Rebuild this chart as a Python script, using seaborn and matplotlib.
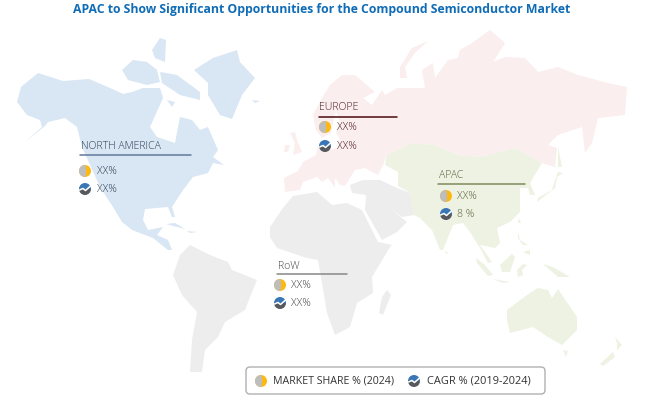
import pandas as pd
import matplotlib.pyplot as plt
import seaborn as sns
from matplotlib.patches import Wedge, Ellipse, FancyBboxPatch

title = "APAC to Show Significant Opportunities for the Compound Semiconductor Market"
legend_share = "MARKET SHARE % (2024)"
legend_cagr = "CAGR % (2019-2024)"

# region names and values as printed on the map
regions = ["NORTH AMERICA", "EUROPE", "APAC", "RoW"]
share_values = ["XX%", "XX%", "XX%", "XX%"]
cagr_values = ["XX%", "XX%", "8 %", "XX%"]

# map outlines in image pixels
north_america = [
    [(17,102),(21,87),(38,73),(63,81),(89,79),(110,88),(123,94),(132,92),(143,88),(160,88),(163,98),(150,127),
     (157,137),(175,143),(180,117),(192,120),(200,130),(208,127),(218,150),(213,157),(224,165),(213,163),(208,173),
     (193,177),(183,190),(172,207),(175,217),(172,217),(168,207),(145,209),(143,220),(148,230),(163,227),(157,235),
     (168,240),(172,250),(168,250),(153,238),(132,230),(122,222),(113,207),(100,187),(82,147),(77,127),(65,118),
     (48,122),(45,126),(25,142),(42,127),(40,120),(27,115)],
    [(122,70),(133,60),(147,62),(157,70),(160,82),(147,85),(128,80)],
    [(152,50),(160,38),(166,40),(165,62),(155,58)],
    [(160,72),(177,75),(200,92),(200,100),(180,95),(162,83)],
    [(167,100),(175,102),(172,107)],
    [(194,70),(213,58),(237,50),(240,62),(255,78),(242,95),(232,119),(220,115),(208,95),(208,83)],
    [(252,100),(260,101),(255,103)],
    [(166,224),(175,223),(185,229),(177,227)],
    [(187,231),(197,232),(190,233)],
]
europe = [
    [(285,192),(284,178),(298,171),(303,162),(316,155),(318,147),(322,150),(330,150),(338,148),(340,140),(336,132),
     (340,122),(336,112),(333,122),(331,133),(322,138),(316,130),(313,115),(322,98),(330,85),(342,75),(355,75),
     (375,92),(363,98),(372,105),(382,90),(385,95),(397,88),(425,88),(422,70),(433,63),(435,78),(448,60),(458,58),
     (460,50),(472,43),(490,30),(505,43),(493,62),(505,57),(525,58),(538,72),(558,67),(578,75),(608,83),(627,87),
     (625,115),(598,118),(592,143),(585,153),(583,135),(582,127),(558,135),(548,145),(557,148),(555,167),(542,163),
     (515,148),(482,157),(458,155),(435,145),(412,143),(387,155),(383,165),(378,175),(365,168),(355,170),(350,178),
     (345,186),(340,185),(335,178),(335,188),(328,178),(322,182),(317,177),(303,182),(300,190)],
    [(428,41),(412,48),(400,67),(400,78),(407,78),(405,67),(415,53)],
    [(290,133),(295,132),(297,140),(302,152),(293,155),(295,143)],
    [(285,145),(290,145),(288,152),(284,152)],
]
apac = [
    [(387,155),(412,143),(435,145),(458,155),(482,157),(515,148),(542,163),(530,183),(535,195),(530,195),(528,188),
     (520,188),(520,212),(510,222),(497,228),(500,243),(495,248),(480,245),(492,262),(488,263),(480,248),(470,232),
     (463,223),(453,225),(443,250),(440,250),(432,230),(420,218),(414,215),(410,193),(398,186),(398,172),(385,165)],
    [(537,202),(555,188),(557,177),(563,173),(558,172),(555,180),(552,190),(538,198)],
    [(558,147),(562,167),(558,167)],
    [(519,218),(521,223),(518,223)],
    [(518,232),(520,240),(528,245),(523,245),(518,238)],
    [(523,252),(530,250),(530,255)],
    [(476,258),(485,265),(493,275),(488,276),(477,263)],
    [(500,265),(512,254),(515,257),(510,272),(502,272)],
    [(493,279),(510,282),(503,283)],
    [(517,270),(523,264),(527,265),(522,270),(523,275),(518,277)],
    [(543,264),(553,267),(570,277),(558,277),(550,270)],
    [(507,310),(527,295),(538,288),(548,290),(552,298),(558,289),(577,317),(577,330),(562,345),(548,337),(533,327),
     (510,333),(507,320)],
    [(563,350),(568,351),(566,357)],
    [(615,337),(622,345),(617,350),(617,343)],
    [(613,352),(615,357),(603,366),(600,364)],
    [(445,250),(448,253),(446,254)],
]
row = [
    [(173,275),(180,255),(190,245),(210,255),(228,262),(232,270),(257,280),(250,297),(245,310),(225,322),(218,337),
     (205,350),(202,372),(190,372),(192,340),(197,312),(182,295)],
    [(270,227),(283,208),(293,196),(317,192),(332,205),(347,203),(362,210),(378,242),(392,245),(390,247),(372,277),
     (373,293),(357,303),(350,327),(335,335),(327,313),(322,283),(318,260),(307,258),(277,248),(270,237)],
    [(387,290),(391,295),(383,315),(379,313),(382,297)],
    [(350,185),(363,180),(380,180),(397,188),(410,193),(414,215),(402,217),(390,208),(407,222),(397,232),(382,240),
     (365,210),(366,195),(352,193)],
]

sns.set_theme(style="white")
plt.rcParams["font.family"] = ["Open Sans", "DejaVu Sans"]

fig, ax = plt.subplots(figsize=(6.5, 4.11), dpi=100)
fig.subplots_adjust(0, 0, 1, 1)
ax.set_xlim(0, 650)
ax.set_ylim(411, 0)
ax.set_axis_off()

for shapes, color in [(north_america, "#d9e6f3"), (europe, "#fbeeee"), (apac, "#eef2e3"), (row, "#ededed")]:
    for shape in shapes:
        xs, ys = zip(*shape)
        ax.fill(xs, ys, color=color, lw=0)


def share_icon(x, y):
    ax.add_patch(Ellipse((x, y), 12, 12, color="#fdb913", lw=0, zorder=3))
    ax.add_patch(Wedge((x, y), 6, 90, 270, color="#bdbdbd", lw=0, zorder=4))
    ax.add_patch(Ellipse((x, y), 2, 12, color="#bdbdbd", lw=0, zorder=4))


def cagr_icon(x, y):
    ax.add_patch(Wedge((x, y), 6, 180, 360, color="#3a76b5", lw=0, zorder=3))
    ax.add_patch(Wedge((x, y), 6, 0, 180, color="#55585c", lw=0, zorder=3))
    ax.plot([x - 5.5, x - 2, x + 0.5, x + 5.5], [y + 1, y - 0.5, y + 1.5, y - 3], color="white", lw=1.1, zorder=4)


def region_label(name, share, cagr, text_x, head_y, line, line_y, color, line_color, icon_x, icon_ys, val_x):
    ax.text(text_x, head_y, name, color=color, fontsize=7.6, va="center", fontweight="light")
    ax.plot(line, [line_y, line_y], color=line_color, lw=1.1)
    share_icon(icon_x, icon_ys[0])
    cagr_icon(icon_x, icon_ys[1])
    ax.text(val_x, icon_ys[0], share, color=color, fontsize=7.6, va="center", fontweight="light")
    ax.text(val_x, icon_ys[1], cagr, color=color, fontsize=7.6, va="center", fontweight="light")


region_label(regions[0], share_values[0], cagr_values[0], 81, 146, (80, 191), 155, "#2b3f55", "#5f7a99", 85, (171, 189), 97)
region_label(regions[1], share_values[1], cagr_values[1], 319, 107, (319, 397), 117, "#4a1a20", "#4a0a10", 325, (127, 146), 337)
region_label(regions[2], share_values[2], cagr_values[2], 439, 175, (438, 525), 184, "#55603a", "#7d8a5a", 446, (196, 214), 457)
region_label(regions[3], share_values[3], cagr_values[3], 278, 266, (277, 347), 274, "#444444", "#888888", 280, (285, 303), 291)

ax.add_patch(FancyBboxPatch((248, 369), 295, 23, boxstyle="round,pad=2,rounding_size=4",
                            fc="white", ec="#b0b0b0", lw=1, zorder=2))
share_icon(261, 381)
cagr_icon(414, 381)
ax.text(273, 381, legend_share, color="#333333", fontsize=7.7, va="center", zorder=5)
ax.text(427, 381, legend_cagr, color="#333333", fontsize=7.9, va="center", zorder=5)

ax.text(322, 9, title, color="#0f6cb6", fontsize=8.85, fontweight="bold", ha="center", va="center")

fig.savefig("out.png", dpi=100)
